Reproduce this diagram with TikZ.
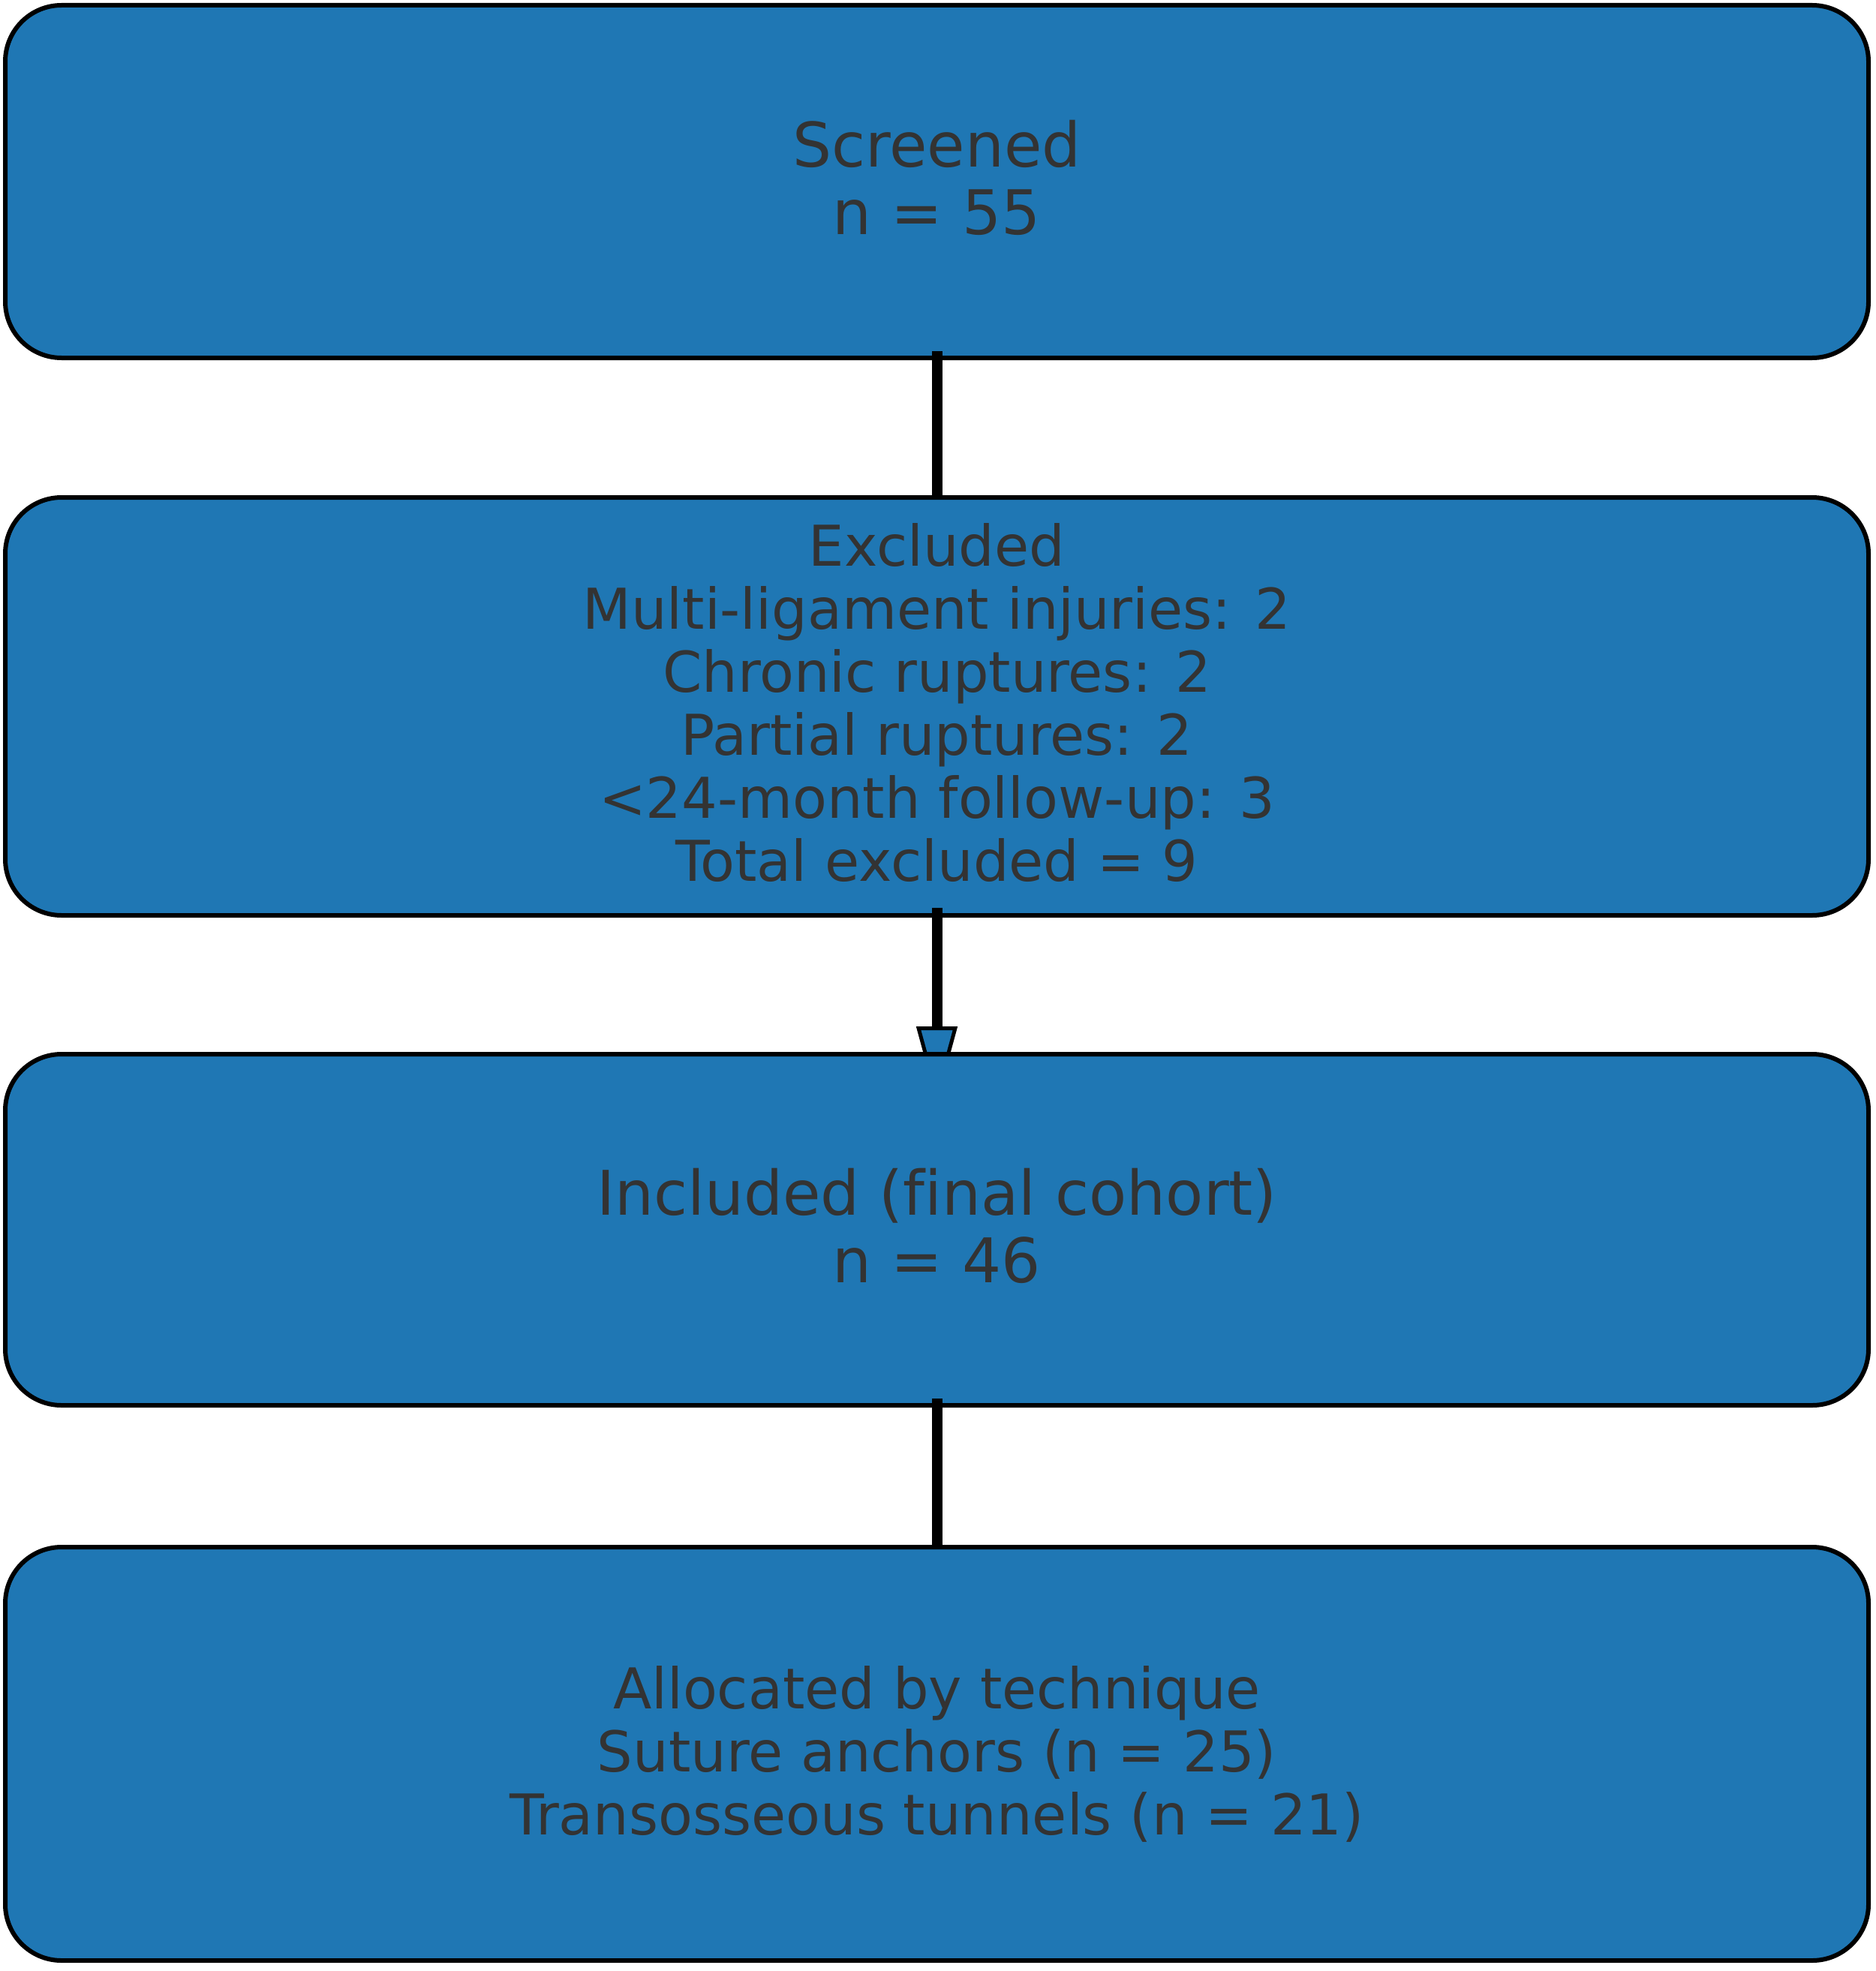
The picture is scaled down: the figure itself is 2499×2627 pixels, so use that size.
\documentclass[tikz,border=0pt]{standalone}
\usepackage{fontspec}
\setmainfont[Ligatures=NoCommon]{DejaVu Sans}
\usetikzlibrary{arrows.meta}
\definecolor{boxblue}{HTML}{1F77B4}
\definecolor{txtgray}{HTML}{333333}
\pgfdeclarelayer{LA}
\pgfdeclarelayer{LB}
\pgfdeclarelayer{LC}
\pgfdeclarelayer{LD}
\pgfdeclarelayer{LE}
\pgfdeclarelayer{LF}
\pgfsetlayers{LA,LB,LC,LD,LE,LF,main}
\begin{document}
\begin{tikzpicture}[x=0.5pt,y=-0.5pt,
  box/.style={draw=black, line width=3pt, fill=boxblue, rounded corners=37.5pt,
    minimum width=1241.5pt, text=txtgray, align=center, inner sep=0pt},
  bigtext/.style={font=\fontsize{41pt}{45pt}\selectfont},
  smalltext/.style={font=\fontsize{37.5pt}{42pt}\selectfont},
  link/.style={draw=black, line width=7pt}]
\useasboundingbox (0,0) rectangle (2499,2627);
\begin{pgfonlayer}{LA}
\node[box,bigtext,minimum height=235pt] (b1) at (1248.5,242)
  {Screened\\n = 55\rule[-6pt]{0pt}{0pt}};
\end{pgfonlayer}
\begin{pgfonlayer}{LC}
\node[box,smalltext,minimum height=278.5pt] (b2) at (1248.5,941.5)
  {Excluded\\Multi-ligament injuries: 2\\Chronic ruptures: 2\\Partial ruptures: 2\\<24-month follow-up: 3\\Total excluded = 9\rule[-6pt]{0pt}{0pt}};
\end{pgfonlayer}
\begin{pgfonlayer}{LE}
\node[box,bigtext,minimum height=234pt] (b3) at (1248.5,1639)
  {Included (final cohort)\\n = 46\rule[-6pt]{0pt}{0pt}};
\end{pgfonlayer}
\node[box,smalltext,minimum height=275.5pt] (b4) at (1248.5,2337.5)
  {Allocated by technique\\Suture anchors (n = 25)\\Transosseous tunnels (n = 21)};
\begin{pgfonlayer}{LB}
\draw[link] ([yshift=6pt]b1.south) -- (b2.north);
\end{pgfonlayer}
\begin{pgfonlayer}{LD}
\draw[link,-{Triangle[width=27pt,length=51pt,line width=2.5pt,fill=boxblue]}]
  ([yshift=6.5pt]b2.south) -- ([yshift=-34pt]b3.north);
\end{pgfonlayer}
\begin{pgfonlayer}{LF}
\draw[link] ([yshift=6pt]b3.south) -- (b4.north);
\end{pgfonlayer}
\end{tikzpicture}
\end{document}
